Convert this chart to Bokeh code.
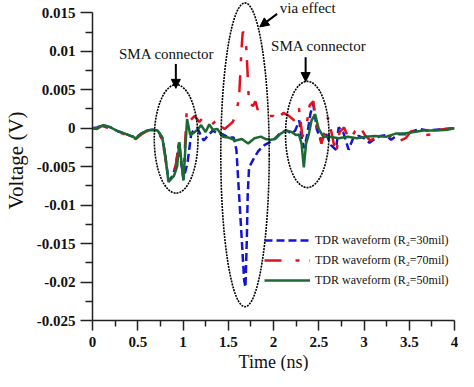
from bokeh.plotting import figure
from bokeh.models import (Range1d, FixedTicker, CustomJSTickFormatter, Legend, LegendItem,
                          Label, Arrow, NormalHead, Title)
from bokeh.embed import file_html
from bokeh.resources import INLINE

# ---- data (time in ns, voltage in V) ----
t_30 = [0.00, 0.05, 0.12, 0.20, 0.28, 0.36, 0.42, 0.48, 0.54, 0.60, 0.66, 0.72, 0.77, 0.80, 0.84,
        0.88, 0.92, 0.955, 0.98, 1.005, 1.05, 1.09, 1.12, 1.16, 1.20, 1.23, 1.28, 1.33, 1.38, 1.44,
        1.50, 1.56, 1.59, 1.62, 1.65, 1.675, 1.69, 1.705, 1.715, 1.73, 1.78, 1.83, 1.90, 1.96, 2.02,
        2.08, 2.14, 2.20, 2.24, 2.285, 2.31, 2.34, 2.37, 2.41, 2.44, 2.48, 2.53, 2.58, 2.635, 2.69,
        2.72, 2.77, 2.83, 2.88, 2.94, 3.00, 3.06, 3.12, 3.18, 3.24, 3.30, 3.38, 3.46, 3.54, 3.62,
        3.70, 3.80, 3.90, 4.00]
v_30 = [0.0000, 0.0001, 0.0004, 0.0001, -0.0004, -0.0007, -0.0010, -0.0012, -0.0007, -0.0003,
        -0.0002, -0.0003, -0.0012, -0.0032, -0.0068, -0.0063, -0.0050, -0.0019, -0.0045, -0.0066,
        -0.0045, -0.0008, -0.0002, 0.0000, -0.0010, -0.0016, -0.0009, -0.0003, -0.0007, -0.0008,
        -0.0012, -0.0012, -0.0028, -0.0087, -0.0146, -0.0197, -0.0207, -0.0146, -0.0087, -0.0051,
        -0.0040, -0.0030, -0.0022, -0.0018, -0.0013, -0.0006, -0.0003, -0.0007, -0.0003, 0.0010,
        -0.0012, -0.0026, -0.0010, 0.0020, 0.0031, -0.0002, -0.0016, -0.0007, -0.0022, -0.0028,
        0.0001, -0.0005, -0.0028, -0.0013, -0.0010, -0.0013, -0.0019, -0.0014, -0.0010, -0.0009,
        -0.0015, -0.0008, -0.0008, -0.0004, -0.0001, -0.0003, -0.0002, -0.0001, 0.0000]

t_70 = [0.00, 0.05, 0.10, 0.16, 0.22, 0.28, 0.36, 0.42, 0.48, 0.54, 0.60, 0.66, 0.72, 0.77, 0.80,
        0.84, 0.88, 0.92, 0.955, 0.98, 1.005, 1.04, 1.08, 1.13, 1.18, 1.22, 1.27, 1.32, 1.37, 1.41,
        1.46, 1.51, 1.55, 1.585, 1.62, 1.645, 1.66, 1.69, 1.71, 1.725, 1.745, 1.775, 1.80, 1.83,
        1.88, 1.935, 2.00, 2.04, 2.11, 2.17, 2.23, 2.28, 2.32, 2.36, 2.40, 2.44, 2.48, 2.53, 2.57,
        2.60, 2.64, 2.69, 2.73, 2.78, 2.84, 2.90, 2.96, 3.01, 3.07, 3.13, 3.20, 3.27, 3.34, 3.40,
        3.46, 3.52, 3.60, 3.67, 3.74, 3.82, 3.90, 4.00]
v_70 = [0.0000, -0.0001, 0.0003, 0.0001, -0.0003, -0.0005, -0.0008, -0.0012, -0.0014, -0.0008,
        -0.0004, -0.0002, -0.0004, -0.0015, -0.0035, -0.0068, -0.0062, -0.0048, -0.0020, -0.0040,
        -0.0064, 0.0020, 0.0010, 0.0016, 0.0008, 0.0014, 0.0012, 0.0005, 0.0010, 0.0003,
        -0.0001, 0.0004, 0.0008, 0.0018, 0.0040, 0.0100, 0.0125, 0.0123, 0.0081, 0.0043,
        0.0031, 0.0029, 0.0035, 0.0022, 0.0019, 0.0016, 0.0016, 0.0012, 0.0020, 0.0016,
        0.0010, 0.0027, -0.0011, 0.0000, 0.0030, 0.0035, 0.0000, -0.0020, -0.0002, 0.0014,
        -0.0005, -0.0034, -0.0005, 0.0001, -0.0016, -0.0004, 0.0001, -0.0009, -0.0016, -0.0012,
        -0.0012, -0.0010, -0.0014, -0.0016, -0.0013, -0.0004, -0.0003, -0.0009, -0.0008, -0.0002,
        -0.0001, 0.0000]

t_50 = [0.00, 0.05, 0.12, 0.20, 0.28, 0.36, 0.42, 0.48, 0.54, 0.60, 0.66, 0.72, 0.77, 0.80, 0.84,
        0.87, 0.90, 0.935, 0.96, 1.005, 1.045, 1.08, 1.12, 1.16, 1.20, 1.25, 1.29, 1.33, 1.38, 1.44,
        1.50, 1.58, 1.65, 1.72, 1.79, 1.86, 1.91, 1.97, 2.02, 2.08, 2.14, 2.20, 2.25, 2.28, 2.31,
        2.335, 2.36, 2.39, 2.42, 2.46, 2.50, 2.55, 2.62, 2.72, 2.82, 2.92, 3.02, 3.12, 3.25, 3.35,
        3.45, 3.55, 3.66, 3.80, 3.92, 4.00]
v_50 = [0.0000, 0.0000, 0.0004, 0.0001, -0.0004, -0.0007, -0.0010, -0.0013, -0.0007, -0.0003,
        -0.0002, -0.0003, -0.0012, -0.0032, -0.0070, -0.0066, -0.0062, -0.0050, -0.0018, -0.0068,
        0.0012, -0.0009, -0.0006, -0.0002, 0.0004, -0.0005, 0.0005, -0.0002, -0.0001, -0.0011,
        -0.0012, -0.0016, -0.0014, -0.0020, -0.0013, -0.0011, -0.0014, -0.0015, -0.0014, -0.0007,
        -0.0003, -0.0005, -0.0009, -0.0008, -0.0020, -0.0051, -0.0020, -0.0008, 0.0010, 0.0018,
        -0.0001, -0.0011, -0.0011, -0.0013, -0.0011, -0.0013, -0.0011, -0.0010, -0.0011, -0.0007,
        -0.0007, -0.0005, -0.0003, -0.0003, -0.0002, 0.0000]

labels = ["TDR waveform (R\u2082=30mil)", "TDR waveform (R\u2082=70mil)", "TDR waveform (R\u2082=50mil)"]
x_ticks = [0, 0.5, 1, 1.5, 2, 2.5, 3, 3.5, 4]
x_minor = [0.25, 0.75, 1.25, 1.75, 2.25, 2.75, 3.25, 3.75]
y_ticks = [-0.025, -0.02, -0.015, -0.01, -0.005, 0, 0.005, 0.01, 0.015]
y_minor = [-0.0225, -0.0175, -0.0125, -0.0075, -0.0025, 0.0025, 0.0075, 0.0125]

# ellipses: (center t, center v, width ns, height V)
ell_cx = [0.924, 1.685, 2.373]
ell_cy = [-0.00139, -0.00346, -0.00082]
ell_w = [0.483, 0.535, 0.48]
ell_h = [0.0141, 0.0395, 0.0138]

SERIF = "Times New Roman, Liberation Serif, serif"

p = figure(width=458, height=371, output_backend="svg", toolbar_location=None,
           x_range=Range1d(0, 4), y_range=Range1d(-0.025, 0.0166),
           min_border_left=81, min_border_right=4, min_border_top=0, min_border_bottom=30)
p.outline_line_color = None
p.grid.visible = False
p.background_fill_color = "white"

r30 = p.line(t_30, v_30, line_color="#1414d2", line_width=2.5, line_dash="8 4")
r70 = p.line(t_70, v_70, line_color="#e0101e", line_width=2.5, line_dash="17 14 4 10")
r50 = p.line(t_50, v_50, line_color="#1b6a32", line_width=2.5)

p.ellipse(x=ell_cx, y=ell_cy, width=ell_w, height=ell_h, fill_color=None,
          line_color="black", line_width=1.6, line_dash="2 1")

fmt = CustomJSTickFormatter(code="return String(Number(tick.toFixed(4)));")
for ax in (p.xaxis[0], p.yaxis[0]):
    ax.formatter = fmt
    ax.axis_line_width = 1.5
    ax.axis_line_color = "#222222"
    ax.major_tick_line_width = 1.5
    ax.minor_tick_line_width = 1.5
    ax.major_tick_line_color = "#222222"
    ax.minor_tick_line_color = "#222222"
    ax.major_tick_in = 0
    ax.minor_tick_in = 0
    ax.major_label_text_font = SERIF
    ax.major_label_text_font_style = "bold"
    ax.major_label_text_font_size = "15px"
    ax.major_label_text_color = "#111111"
    ax.axis_label_text_font = SERIF
    ax.axis_label_text_font_style = "normal"
    ax.axis_label_text_color = "#111111"

p.xaxis.ticker = FixedTicker(ticks=x_ticks, minor_ticks=x_minor)
p.yaxis.ticker = FixedTicker(ticks=y_ticks, minor_ticks=y_minor)
p.yaxis.bounds = (-0.025, 0.015)
p.xaxis.major_tick_out = 10
p.xaxis.minor_tick_out = 6
p.yaxis.major_tick_out = 12
p.yaxis.minor_tick_out = 7
p.xaxis.major_label_standoff = 6
p.yaxis.major_label_standoff = 5
p.yaxis.axis_label = "Voltage (V)"
p.yaxis.axis_label_text_font_size = "21px"
p.yaxis.axis_label_standoff = 6

# x-axis title as a panel below the axis
p.add_layout(Title(text="Time (ns)", align="center", text_font=SERIF, text_font_size="18px",
                   text_font_style="normal", text_color="#111111", standoff=0, offset=0),
             "below")

# annotations
for txt, x, y, base in [("SMA connector", 0.82, 0.0096, "middle"),
                        ("SMA connector", 2.50, 0.01065, "middle"),
                        ("via effect", 2.378, 0.0167, "top")]:
    p.add_layout(Label(x=x, y=y, text=txt, text_align="center", text_baseline=base,
                       text_font=SERIF, text_font_size="15px", text_color="#111111"))

for xs, ys, xe, ye in [(0.921, 0.00833, 0.921, 0.00518),
                       (2.355, 0.00922, 2.355, 0.00606),
                       (2.04, 0.01486, 1.848, 0.01317)]:
    p.add_layout(Arrow(end=NormalHead(size=9, fill_color="black", line_color="black"),
                       x_start=xs, y_start=ys, x_end=xe, y_end=ye,
                       line_color="black", line_width=2))

legend = Legend(items=[LegendItem(label=labels[0], renderers=[r30]),
                       LegendItem(label=labels[1], renderers=[r70]),
                       LegendItem(label=labels[2], renderers=[r50])],
                location=(172, 30), orientation="vertical",
                border_line_color=None, background_fill_alpha=0,
                padding=0, margin=0, spacing=0,
                glyph_width=46, glyph_height=20, label_height=20, label_standoff=5,
                label_text_font=SERIF, label_text_font_size="12px", label_text_color="#111111")
p.add_layout(legend)

open("out.html", "w").write(file_html(p, INLINE))
